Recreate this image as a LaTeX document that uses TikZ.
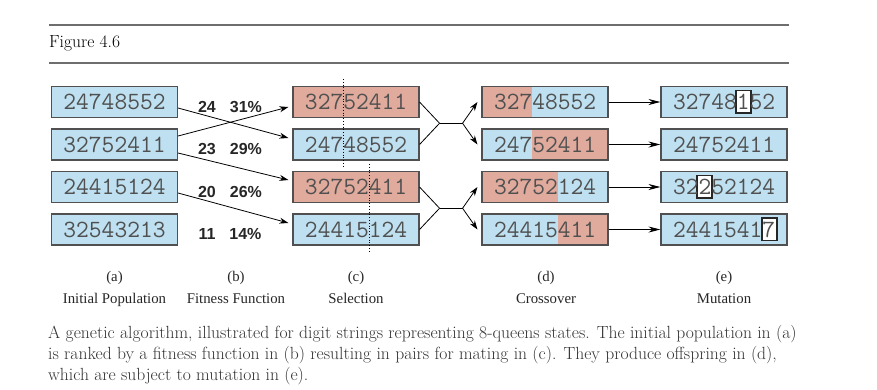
\documentclass[tikz,border=0pt]{standalone}
\usepackage{fontspec}
\usetikzlibrary{calc,arrows.meta}
\usetikzlibrary{positioning}
\newfontfamily\fitfont{Liberation Sans}
\newfontfamily\capfont{Liberation Serif}
\definecolor{popblue}{RGB}{190,224,240}
\definecolor{selpink}{RGB}{224,170,157}
\definecolor{boxedge}{RGB}{80,80,80}
\definecolor{digitgray}{RGB}{80,80,80}
\definecolor{rulegray}{RGB}{110,110,110}

\begin{document}
\begin{tikzpicture}[x=1pt, y=-1pt,
    strbox/.style={draw=boxedge, line width=1.1pt, fill=popblue, minimum width=126pt, minimum height=31pt, inner sep=0pt, text=digitgray, font=\fontsize{24.76}{25}\ttfamily},
    pinkstr/.style={strbox, fill=selpink},
    pinkleft/.style={path picture={\fill[selpink] (path picture bounding box.south west) rectangle ($(path picture bounding box.north)+(#1,0)$);}},
    pinkright/.style={path picture={\fill[selpink] (path picture bounding box.south east) rectangle ($(path picture bounding box.north)+(#1,0)$);}},
    mutated/.style={path picture={\draw[line width=1.8pt, draw=black!85, fill=white] ($(path picture bounding box.center)+(#1-1,-11.5)$) rectangle ($(path picture bounding box.center)+(#1+14,11)$);}},
    fitness/.style={font=\fitfont\bfseries\fontsize{16}{16}\selectfont, text=black!85, anchor=base, inner sep=0pt},
    steplabel/.style={font=\capfont\fontsize{14.8}{15}\selectfont, text=black!85, anchor=base, inner sep=0pt},
    captext/.style={font=\fontsize{17.6}{21}\selectfont, text=black!80, anchor=base west, inner sep=0pt},
    sel/.style={-{Stealth[length=9pt,width=6pt]}, line width=0.8pt},
    mut/.style={-{Stealth[length=12pt,width=6pt]}, line width=0.8pt}
]
    \useasboundingbox (0,0) rectangle (877,389);

    % heading
    \draw[rulegray, line width=1.3pt] (49,25) -- (789,25);
    \draw[rulegray, line width=1.3pt] (49,63) -- (789,63);
    \node[captext, font=\fontsize{17.5}{18}\selectfont, text=black] (figlabel) at (49,47) {Figure 4.6};

    % (a) initial population and (b) fitness
    \foreach \i/\y/\str in {1/102/24748552, 2/144.5/32752411, 3/187/24415124, 4/229.5/32543213} {
        \node[strbox] (a\i) at (114.5,\y) {\str};
    }
    \foreach \i/\y/\score/\pct in {1/112/24/31, 2/154.5/23/29, 3/197/20/26, 4/239.5/11/14} {
        \node[fitness] (f\i) at (230,\y) {\score\hspace{14pt}\pct\%};
    }

    % (c) selection
    \node[pinkstr] (c1) at (356,102) {32752411};
    \node[strbox] (c2) at (356,144.5) {24748552};
    \node[pinkstr] (c3) at (356,187) {32752411};
    \node[strbox] (c4) at (356,229.5) {24415124};
    \draw[dotted, line width=0.8pt] ($(c1.north)+(-13,-7)$) -- ($(c2.south)+(-13,6)$);
    \draw[dotted, line width=0.8pt] ($(c3.north)+(13,-7)$) -- ($(c4.south)+(13,6)$);

    \draw[sel] ($(a1.east)+(0,6)$) -- ($(c2.west)+(-4,-6.5)$);
    \draw[sel] ($(a2.east)+(0,-8.5)$) -- ($(c1.west)+(-4,5)$);
    \draw[sel] ($(a2.east)+(0,8.5)$) -- ($(c3.west)+(-4,-7)$);
    \draw[sel] ($(a3.east)+(0,6)$) -- ($(c4.west)+(-4,-6.5)$);

    % (d) crossover
    \node[strbox, pinkleft=-13] (d1) at (545,102) {32748552};
    \node[strbox, pinkright=-13] (d2) at (545,144.5) {24752411};
    \node[strbox, pinkleft=13] (d3) at (545,187) {32752124};
    \node[strbox, pinkright=13] (d4) at (545,229.5) {24415411};

    \foreach \p/\q/\u/\v in {1/2/1/2, 3/4/3/4} {
        \coordinate (j\p) at ($(c\p.east)!0.5!(c\q.east)+(20,0)$);
        \coordinate (k\p) at ($(j\p)+(23,0)$);
        \draw[line width=0.8pt] (c\p.east) -- (j\p) -- (c\q.east);
        \draw[line width=0.8pt] (j\p) -- (k\p);
        \draw[sel] (k\p) -- ($(d\u.west)+(-4,0)$);
        \draw[sel] (k\p) -- ($(d\v.west)+(-4,0)$);
    }

    % (e) mutation
    \node[strbox, mutated=13] (e1) at (724,102) {32748152};
    \node[strbox] (e2) at (724,144.5) {24752411};
    \node[strbox, mutated=-26] (e3) at (724,187) {32252124};
    \node[strbox, mutated=39] (e4) at (724,229.5) {24415417};
    \foreach \i in {1,...,4} {
        \draw[mut] (d\i.east) -- (e\i.west);
    }

    % step labels
    \foreach \x/\tag/\name in {114.5/a/Initial Population, 236/b/Fitness Function, 356/c/Selection, 546/d/Crossover, 724/e/Mutation} {
        \node[steplabel] (t\tag) at (\x,281) {(\tag)};
        \node[steplabel] (n\tag) at (\x,303) {\name};
    }

    % caption
    \node[captext] (cap1) at (48,338) {A genetic algorithm, illustrated for digit strings representing 8-queens states. The initial population in (a)};
    \node[captext] (cap2) at (48,359) {is ranked by a fitness function in (b) resulting in pairs for mating in (c). They produce offspring in (d),};
    \node[captext] (cap3) at (48,380) {which are subject to mutation in (e).};
\end{tikzpicture}
\end{document}
